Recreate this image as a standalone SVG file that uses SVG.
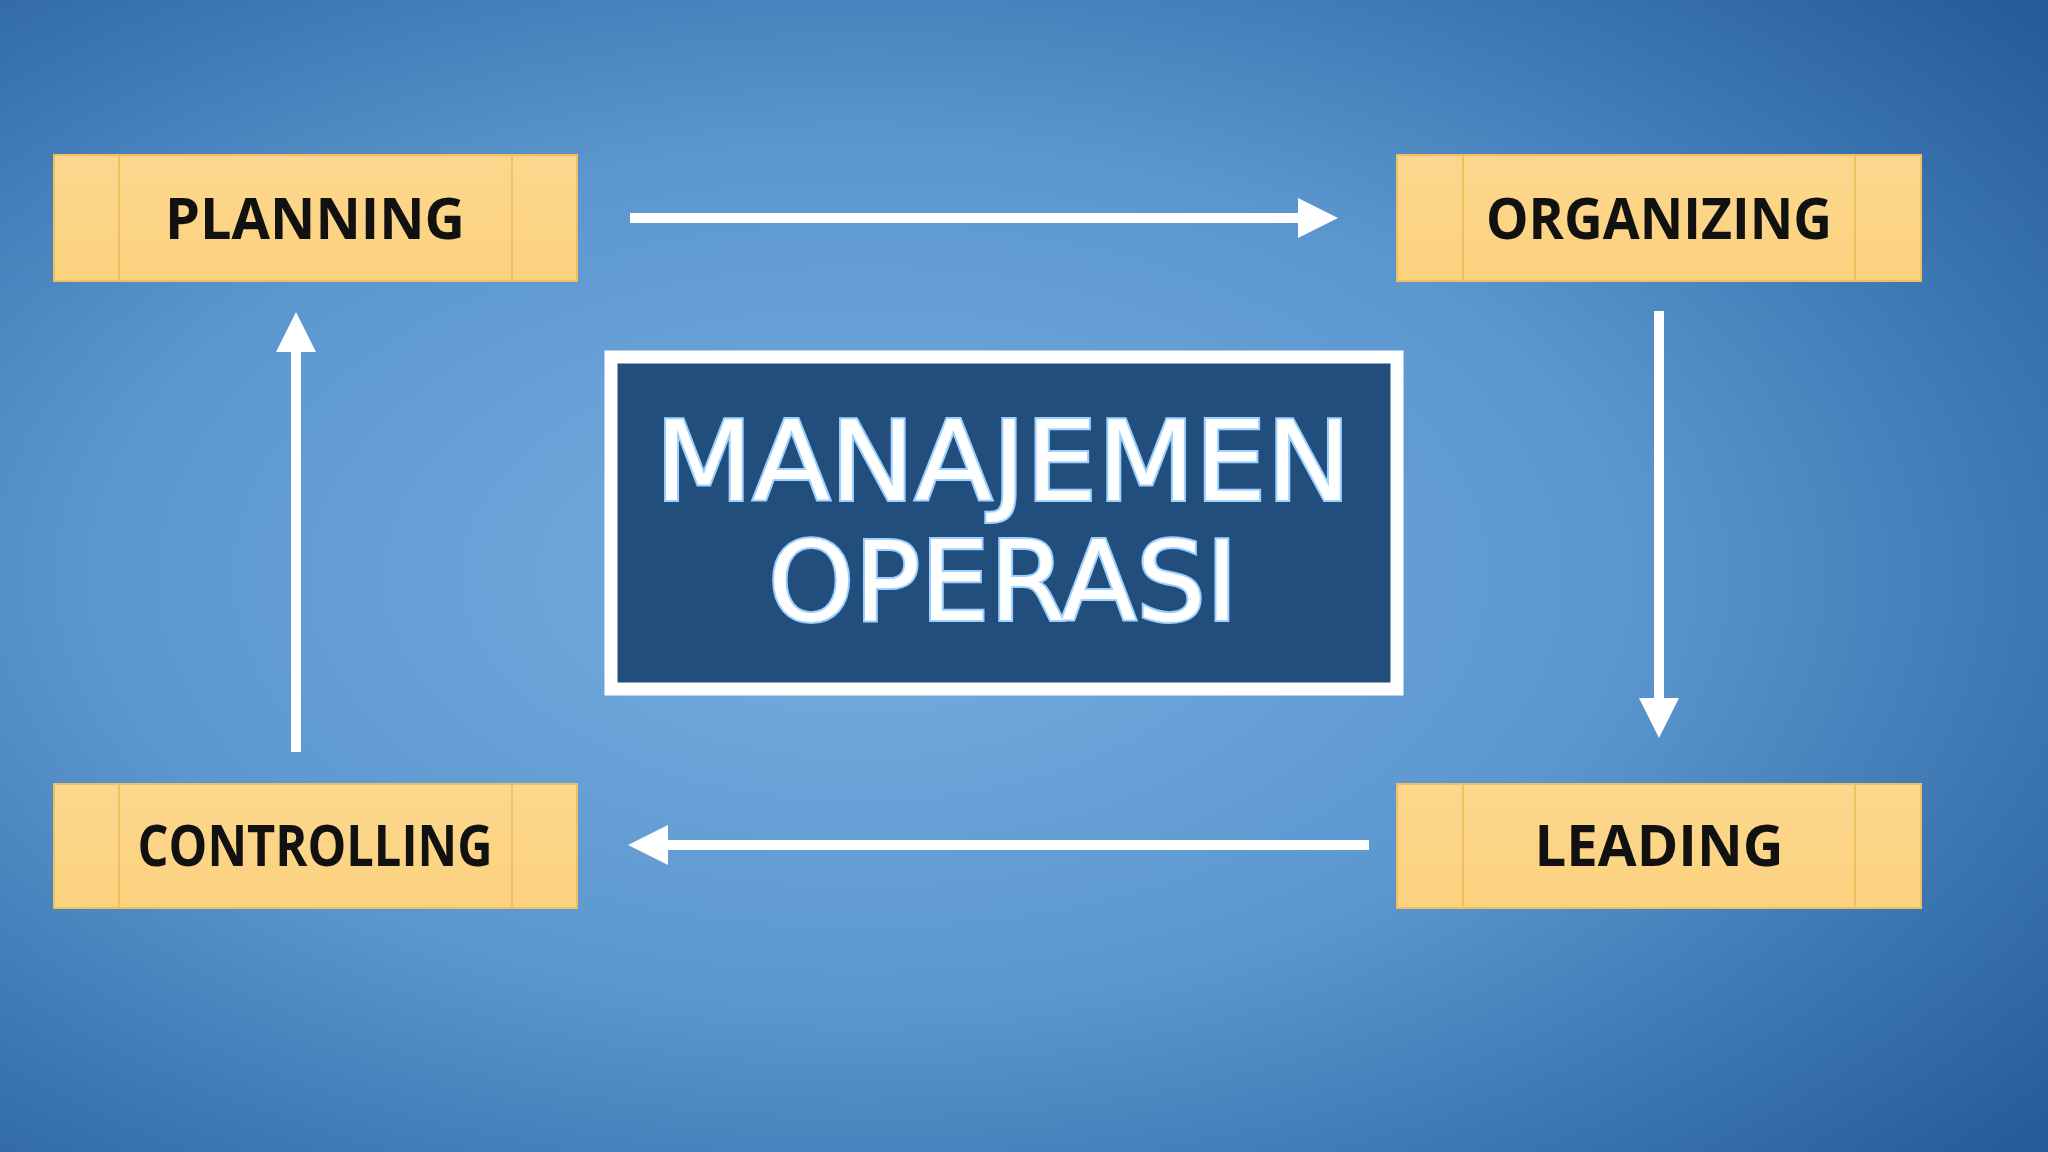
<svg xmlns="http://www.w3.org/2000/svg" width="2048" height="1152" viewBox="0 0 2048 1152">
<defs>
<radialGradient id="bg" cx="0.42" cy="0.5" r="0.75">
<stop offset="0" stop-color="#77aee0"/>
<stop offset="0.5" stop-color="#5b96cf"/>
<stop offset="1" stop-color="#245d98"/>
</radialGradient>
<linearGradient id="box" x1="0" y1="0" x2="0" y2="1">
<stop offset="0" stop-color="#fcd78e"/>
<stop offset="1" stop-color="#fbd27e"/>
</linearGradient>
<marker id="ah" markerWidth="4" markerHeight="4" refX="2" refY="2" orient="auto" markerUnits="strokeWidth">
<path d="M0,0 L4,2 L0,4 Z" fill="#fff"/>
</marker>
<style>
.box{fill:url(#box);stroke:#f0c060;stroke-width:2}
.div{stroke:#f0c060;stroke-width:2}
.lbl{font-family:"Open Sans","Liberation Sans",sans-serif;font-weight:bold;font-size:58px;fill:#111;text-anchor:middle}
.con{stroke:#fff;stroke-width:10;fill:none;marker-end:url(#ah)}
.title{font-family:"DejaVu Sans","Liberation Sans",sans-serif;font-size:110px;fill:#fff;text-anchor:middle;stroke:#9cd0ff;stroke-width:4;paint-order:stroke}
</style>
</defs>
<rect width="2048" height="1152" fill="url(#bg)"/>
<g id="connectors">
<line class="con" x1="630" y1="218" x2="1318" y2="218"/>
<line class="con" x1="1659" y1="311" x2="1659" y2="718"/>
<line class="con" x1="1369" y1="845" x2="648" y2="845"/>
<line class="con" x1="296" y1="752" x2="296" y2="332"/>
</g>
<g id="center">
<rect x="611" y="357" width="786" height="332" fill="#224e7e" stroke="#fff" stroke-width="13"/>
<text class="title" x="1003" y="500" textLength="696" lengthAdjust="spacingAndGlyphs">MANAJEMEN</text>
<text class="title" x="1003" y="620" textLength="470" lengthAdjust="spacingAndGlyphs">OPERASI</text>
</g>
<g id="planning">
<rect class="box" x="54" y="155" width="523" height="126"/>
<line class="div" x1="119" y1="155" x2="119" y2="281"/><line class="div" x1="512" y1="155" x2="512" y2="281"/>
<text class="lbl" x="315" y="239" textLength="300" lengthAdjust="spacingAndGlyphs">PLANNING</text>
</g>
<g id="organizing">
<rect class="box" x="1397" y="155" width="524" height="126"/>
<line class="div" x1="1463" y1="155" x2="1463" y2="281"/><line class="div" x1="1855" y1="155" x2="1855" y2="281"/>
<text class="lbl" x="1659" y="239" textLength="346" lengthAdjust="spacingAndGlyphs">ORGANIZING</text>
</g>
<g id="controlling">
<rect class="box" x="54" y="784" width="523" height="124"/>
<line class="div" x1="119" y1="784" x2="119" y2="908"/><line class="div" x1="512" y1="784" x2="512" y2="908"/>
<text class="lbl" x="315" y="866" textLength="355" lengthAdjust="spacingAndGlyphs">CONTROLLING</text>
</g>
<g id="leading">
<rect class="box" x="1397" y="784" width="524" height="124"/>
<line class="div" x1="1463" y1="784" x2="1463" y2="908"/><line class="div" x1="1855" y1="784" x2="1855" y2="908"/>
<text class="lbl" x="1659" y="866" textLength="249" lengthAdjust="spacingAndGlyphs">LEADING</text>
</g>
</svg>
